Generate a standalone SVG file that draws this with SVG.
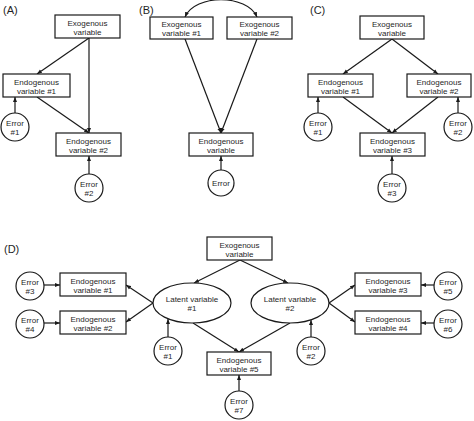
<svg xmlns="http://www.w3.org/2000/svg" width="474" height="421" viewBox="0 0 474 421">
<defs>
<marker id="ah" viewBox="0 0 10 10" refX="10" refY="5" markerWidth="5" markerHeight="5" orient="auto-start-reverse" markerUnits="userSpaceOnUse"><path d="M0,1 L10,5 L0,9 z" fill="#1a1a1a"/></marker>
<style>
.b{fill:#fff;stroke:#1a1a1a;stroke-width:1.2}
.t{font-family:"Liberation Sans",Arial,sans-serif;font-size:8px;fill:#1f1f1f;text-anchor:middle}
.p{font-family:"Liberation Sans",Arial,sans-serif;font-size:11px;fill:#1f1f1f}
.c line,.c path{stroke:#1a1a1a;stroke-width:1.2;fill:none;marker-end:url(#ah)}
</style>
</defs>
<rect width="474" height="421" fill="#fff"/>
<text class="p" x="3" y="14">(A)</text>
<text class="p" x="139" y="14">(B)</text>
<text class="p" x="310" y="14">(C)</text>
<text class="p" x="4" y="253">(D)</text>
<g class="c" id="connectors">
<line x1="89" y1="38" x2="37" y2="74"/>
<line x1="89" y1="38" x2="89" y2="133"/>
<line x1="37" y1="97" x2="89" y2="133"/>
<line x1="15" y1="113" x2="15" y2="97"/>
<line x1="89" y1="174" x2="89" y2="156"/>
<path d="M185,17 C195,-6 247,-6 257,17" style="marker-start:url(#ah)"/>
<line x1="185" y1="39" x2="221" y2="133"/>
<line x1="257" y1="39" x2="221" y2="133"/>
<line x1="221" y1="170" x2="221" y2="156"/>
<line x1="392" y1="39" x2="343" y2="74"/>
<line x1="392" y1="39" x2="438" y2="74"/>
<line x1="343" y1="97" x2="392" y2="133"/>
<line x1="438" y1="97" x2="392" y2="133"/>
<line x1="318" y1="113" x2="318" y2="97"/>
<line x1="458" y1="113" x2="458" y2="97"/>
<line x1="392" y1="174" x2="392" y2="156"/>
<line x1="240" y1="260" x2="194" y2="283"/>
<line x1="240" y1="260" x2="288" y2="283"/>
<line x1="153" y1="303" x2="126" y2="285"/>
<line x1="153" y1="303" x2="126" y2="322"/>
<line x1="329" y1="303" x2="355" y2="285"/>
<line x1="329" y1="303" x2="355" y2="322"/>
<line x1="193" y1="323" x2="239" y2="352"/>
<line x1="290" y1="323" x2="239" y2="352"/>
<line x1="44" y1="285" x2="60" y2="285"/>
<line x1="44" y1="323" x2="60" y2="323"/>
<line x1="434" y1="285" x2="421" y2="285"/>
<line x1="434" y1="323" x2="421" y2="323"/>
<line x1="168" y1="337" x2="168" y2="319"/>
<line x1="311" y1="337" x2="311" y2="320"/>
<line x1="239" y1="391" x2="239" y2="375"/>
</g>
<g id="A_exo"><rect class="b" x="55" y="15" width="65" height="23"/><text class="t" x="87.5" y="25.5">Exogenous</text><text class="t" x="87.5" y="34.5">variable</text></g>
<g id="A_endo1"><rect class="b" x="3" y="74" width="67" height="23"/><text class="t" x="36.5" y="84.5">Endogenous</text><text class="t" x="36.5" y="93.5">variable #1</text></g>
<g id="A_endo2"><rect class="b" x="56" y="133" width="65" height="23"/><text class="t" x="88.5" y="143.5">Endogenous</text><text class="t" x="88.5" y="152.5">variable #2</text></g>
<g id="A_err1"><circle class="b" cx="15" cy="127" r="14"/><text class="t" x="15" y="126">Error</text><text class="t" x="15" y="135">#1</text></g>
<g id="A_err2"><circle class="b" cx="89" cy="188" r="14"/><text class="t" x="89" y="187">Error</text><text class="t" x="89" y="196">#2</text></g>
<g id="B_exo1"><rect class="b" x="150" y="17" width="63" height="22"/><text class="t" x="181.5" y="27">Exogenous</text><text class="t" x="181.5" y="36">variable #1</text></g>
<g id="B_exo2"><rect class="b" x="227" y="17" width="65" height="22"/><text class="t" x="259.5" y="27">Exogenous</text><text class="t" x="259.5" y="36">variable #2</text></g>
<g id="B_endo"><rect class="b" x="189" y="133" width="64" height="23"/><text class="t" x="221" y="143.5">Endogenous</text><text class="t" x="221" y="152.5">variable</text></g>
<g id="B_err"><circle class="b" cx="221" cy="183" r="13"/><text class="t" x="221" y="186">Error</text></g>
<g id="C_exo"><rect class="b" x="360" y="16" width="64" height="23"/><text class="t" x="392" y="26.5">Exogenous</text><text class="t" x="392" y="35.5">variable</text></g>
<g id="C_endo1"><rect class="b" x="308" y="74" width="65" height="23"/><text class="t" x="340.5" y="84.5">Endogenous</text><text class="t" x="340.5" y="93.5">variable #1</text></g>
<g id="C_endo2"><rect class="b" x="407" y="74" width="64" height="23"/><text class="t" x="439" y="84.5">Endogenous</text><text class="t" x="439" y="93.5">variable #2</text></g>
<g id="C_endo3"><rect class="b" x="360" y="133" width="65" height="23"/><text class="t" x="392.5" y="143.5">Endogenous</text><text class="t" x="392.5" y="152.5">variable #3</text></g>
<g id="C_err1"><circle class="b" cx="318" cy="127" r="14"/><text class="t" x="318" y="126">Error</text><text class="t" x="318" y="135">#1</text></g>
<g id="C_err2"><circle class="b" cx="458" cy="127" r="14"/><text class="t" x="458" y="126">Error</text><text class="t" x="458" y="135">#2</text></g>
<g id="C_err3"><circle class="b" cx="392" cy="188" r="14"/><text class="t" x="392" y="187">Error</text><text class="t" x="392" y="196">#3</text></g>
<g id="D_exo"><rect class="b" x="207" y="237" width="65" height="23"/><text class="t" x="239.5" y="247.5">Exogenous</text><text class="t" x="239.5" y="256.5">variable</text></g>
<g id="D_lat1"><ellipse class="b" cx="192" cy="303" rx="39" ry="20"/><text class="t" x="192" y="302">Latent variable</text><text class="t" x="192" y="311">#1</text></g>
<g id="D_lat2"><ellipse class="b" cx="290" cy="303" rx="39" ry="20"/><text class="t" x="290" y="302">Latent variable</text><text class="t" x="290" y="311">#2</text></g>
<g id="D_endo1"><rect class="b" x="60" y="273" width="66" height="23"/><text class="t" x="93" y="283.5">Endogenous</text><text class="t" x="93" y="292.5">variable #1</text></g>
<g id="D_endo2"><rect class="b" x="60" y="311" width="66" height="23"/><text class="t" x="93" y="321.5">Endogenous</text><text class="t" x="93" y="330.5">variable #2</text></g>
<g id="D_endo3"><rect class="b" x="355" y="273" width="66" height="23"/><text class="t" x="388" y="283.5">Endogenous</text><text class="t" x="388" y="292.5">variable #3</text></g>
<g id="D_endo4"><rect class="b" x="355" y="311" width="66" height="23"/><text class="t" x="388" y="321.5">Endogenous</text><text class="t" x="388" y="330.5">variable #4</text></g>
<g id="D_endo5"><rect class="b" x="207" y="352" width="64" height="23"/><text class="t" x="239" y="362.5">Endogenous</text><text class="t" x="239" y="371.5">variable #5</text></g>
<g id="D_err3"><circle class="b" cx="30" cy="286" r="14"/><text class="t" x="30" y="285">Error</text><text class="t" x="30" y="294">#3</text></g>
<g id="D_err4"><circle class="b" cx="30" cy="324" r="14"/><text class="t" x="30" y="323">Error</text><text class="t" x="30" y="332">#4</text></g>
<g id="D_err5"><circle class="b" cx="448" cy="286" r="14"/><text class="t" x="448" y="285">Error</text><text class="t" x="448" y="294">#5</text></g>
<g id="D_err6"><circle class="b" cx="448" cy="324" r="14"/><text class="t" x="448" y="323">Error</text><text class="t" x="448" y="332">#6</text></g>
<g id="D_err1"><circle class="b" cx="168" cy="351" r="14"/><text class="t" x="168" y="350">Error</text><text class="t" x="168" y="359">#1</text></g>
<g id="D_err2"><circle class="b" cx="311" cy="351" r="14"/><text class="t" x="311" y="350">Error</text><text class="t" x="311" y="359">#2</text></g>
<g id="D_err7"><circle class="b" cx="239" cy="405" r="14"/><text class="t" x="239" y="404">Error</text><text class="t" x="239" y="413">#7</text></g>
</svg>
